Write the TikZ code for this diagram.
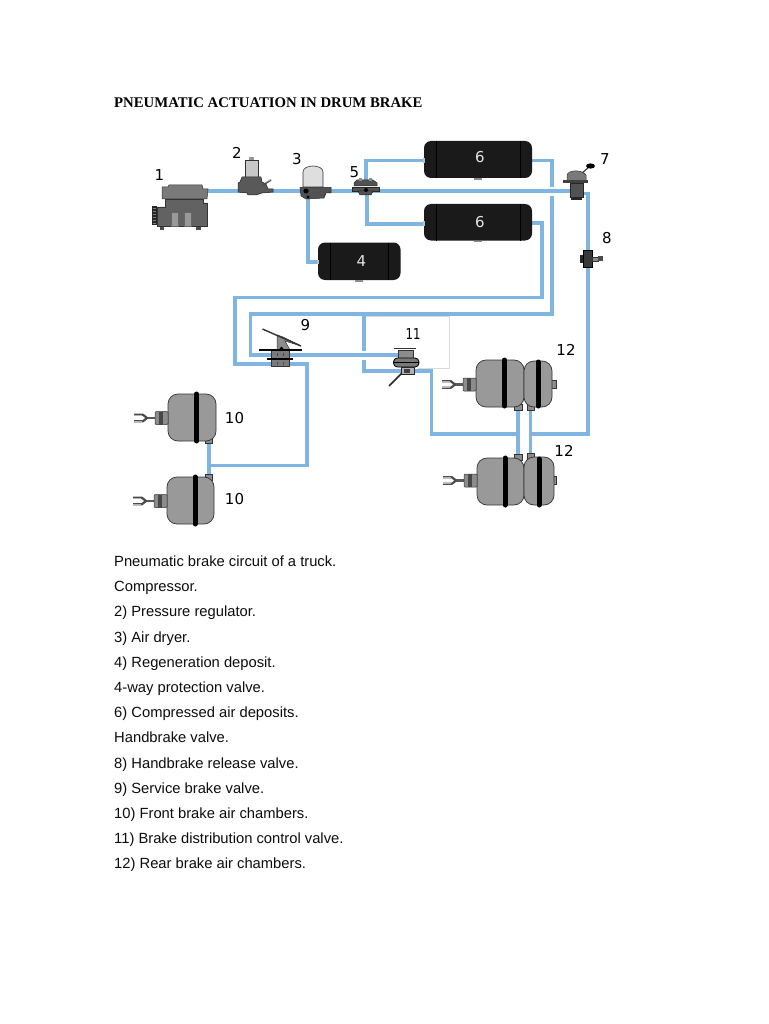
\documentclass[tikz,border=0pt]{standalone}
\usepackage{fontspec}
\setmainfont{Liberation Sans}
\newfontfamily\titlefont{Liberation Serif}
\newfontfamily\labelfont{DejaVu Sans}
\usetikzlibrary{calc}
\definecolor{pipeblue}{HTML}{7FB5E0}
\definecolor{tankblack}{HTML}{1A1A1A}
\definecolor{chambergray}{HTML}{999999}
\definecolor{outlinegray}{HTML}{333333}
\definecolor{metalgray}{HTML}{626262}
\definecolor{headgray}{HTML}{7A7A7A}
\definecolor{partgray}{HTML}{8C8C8C}
\tikzset{
  pipe/.style={draw=pipeblue,line width=3.9pt,line join=miter},
  num/.style={font=\labelfont\fontsize{15}{16}\selectfont,text=black,inner sep=0pt},
  tanknum/.style={font=\labelfont\fontsize{15}{16}\selectfont,text=white!90!black,inner sep=0pt},
  caption/.style={font=\fontsize{14.75}{17}\selectfont,text=black!95,anchor=base west,inner sep=0pt},
  tankbody/.style={fill=tankblack,rounded corners=7pt},
  metal/.style={fill=metalgray,draw=outlinegray,line width=0.5pt},
  darkmetal/.style={fill=black!68,draw=black!85,line width=0.5pt},
  portbox/.style={fill=partgray,draw=outlinegray,line width=0.4pt},
  chamber/.style={fill=chambergray,draw=outlinegray,line width=0.7pt,rounded corners=10pt},
  clamp/.style={draw=black,line width=5pt,line cap=round},
  pics/fork/.style={code={
    \fill[black!65] (-22,-1.3) rectangle (-13,1.3);
    \draw[outlinegray,fill=partgray,line width=0.5pt,rounded corners=1pt] (-13,-6.5) rectangle (0,6.5);
    \fill[black!72] (-9,-6.5) rectangle (-5,6.5);
    \draw[black!70,line width=2.2pt,line join=round] (-34,-3.2) -- (-25,-3.2) -- (-21,0) -- (-25,3.2) -- (-34,3.2);
    \draw[black!30,line width=0.6pt] (-34,-3.2) -- (-26,-3.2) (-34,3.2) -- (-26,3.2);
  }},
  pics/tankshape/.style args={#1/#2}{code={
    \fill[tankbody] (0,0) rectangle (#1,#2);
    \draw[black,line width=0.5pt] (12,0) -- (12,#2) (#1-12,0) -- (#1-12,#2);
    \fill[black!45] (#1/2-4,#2) rectangle (#1/2+4,#2+1.6);
  }}
}
\begin{document}
\begin{tikzpicture}[x=1pt,y=-1pt]
\useasboundingbox (0,0) rectangle (768,1024);
\fill[white] (0,0) rectangle (768,1024);

% named anchor points
\coordinate (compr) at (207,191);
\coordinate (reg) at (255,191);
\coordinate (dry) at (308,191);
\coordinate (prot) at (366,191);
\coordinate (hand) at (577,191);
\coordinate (tankA) at (424,160.5);
\coordinate (tankB) at (424,224);
\coordinate (regen) at (318,262);
\coordinate (tankAr) at (532,160.5);
\coordinate (tankBr) at (532,223);
\coordinate (dist) at (405,355);

% faint outline beside valve 11
\draw[black!14,line width=0.6pt] (364,316) -- (449.5,316) -- (449.5,368) -- (418,368);

% pipes
\draw[pipe] (compr) -- (reg);
\draw[pipe] (reg) -- (dry);
\draw[pipe] (dry) -- (prot);
\draw[pipe] (prot) -- (hand);
\draw[pipe] (dry) -- (308,262) -- (regen);
\draw[pipe] (366,183) -- (366,160.5) -- (tankA);
\draw[pipe] (367,191) -- (367,224) -- (tankB);
\draw[pipe] (tankAr) -- (551.7,160.5) -- (551.7,187);
\draw[pipe] (551.7,196.5) -- (551.7,314) -- (250.5,314) -- (250.5,355) -- (dist);
\draw[pipe] (364,314) -- (364,351);
\draw[pipe] (364,360) -- (364,371) -- (431.5,371) -- (431.5,434) -- (518,434);
\draw[pipe] (tankBr) -- (541.7,223) -- (541.7,297.5) -- (235,297.5) -- (235,364) -- (307,364) -- (307,465.5) -- (209,465.5);
\draw[pipe] (hand) ++(0,2.5) -- (588,193.5) -- (588,434) -- (530.5,434);
\draw[pipe] (518,407) -- (518,456);
\draw[pipe] (530.5,407) -- (530.5,456);
\draw[pipe] (209,443) -- (209,477);

% tanks
\pic at (424,141) {tankshape=108/37};
\pic at (424,204) {tankshape=108/36.5};
\pic at (318,242.5) {tankshape=82.5/37.5};
\fill[black!25] (422.5,158) rectangle (424.5,163);
\fill[black!25] (422.5,221) rectangle (424.5,226);
\fill[black!25] (316.5,260) rectangle (318.5,264);

% compressor
\fill[black!70] (160,225) rectangle (163.5,230);
\fill[black!70] (196,225) rectangle (201,230);
\draw[metal] (157,207) -- (165,207) -- (165,199) -- (203,199) -- (203,203) -- (207.5,203) -- (207.5,226) -- (157,226) -- cycle;
\draw[fill=headgray,draw=outlinegray,line width=0.5pt] (162,187) -- (168,187) -- (169,185) -- (202,185) -- (203,189) -- (208,189) -- (207,199) -- (162,199) -- cycle;
\fill[black!85] (152,206) rectangle (157,225);
\draw[black!50,line width=0.5pt] (153,208) -- (156,208) (153,211) -- (156,211) (153,214) -- (156,214) (153,217) -- (156,217) (153,220) -- (156,220) (153,223) -- (156,223);
\draw[fill=chambergray,draw=black!60,line width=0.5pt] (171,226) -- (171,212) -- (178,212) -- (178,226) -- cycle;
\draw[fill=chambergray,draw=black!60,line width=0.5pt] (184,226) -- (184,212) -- (191,212) -- (191,226) -- cycle;

% pressure regulator
\draw[fill=black!22,draw=outlinegray,line width=0.5pt] (245,177) -- (245,160) -- (258,160) -- (258,177) -- cycle;
\fill[black!40] (249,157) rectangle (254,160);
\draw[darkmetal,fill=black!65] (240,182) -- (242,177) -- (261,177) -- (262,182) -- (266,184) -- (268,189) -- (273,189) -- (273,192) -- (262,193) -- (256,195) -- (248,195) -- (247,193) -- (238,192) -- (238,183) -- cycle;
\draw[black!70,line width=1.6pt] (263,185) -- (271,180);
\draw[black!30,line width=0.5pt] (265,183) -- (271,179.5);

% air dryer
\draw[fill=black!13,draw=outlinegray,line width=0.6pt] (303,187) -- (303,172) .. controls (303,164) and (323,164) .. (323,172) -- (323,187) -- cycle;
\draw[darkmetal] (300,187.5) -- (331,187.5) -- (331,193) -- (326,193) -- (324,198) -- (306,199) -- (301,196) -- cycle;
\fill[black] (306,191) circle (2.6pt);
\fill[black] (308,197) circle (1.6pt);

% protection valve
\draw[darkmetal] (354,183) -- (357,180) -- (373,180) -- (377,183) -- (377,186) -- (354,186) -- cycle;
\draw[darkmetal] (352,187) rectangle (379,191);
\fill[partgray] (359,178) rectangle (362,181);
\fill[partgray] (369,178) rectangle (372,181);
\draw[darkmetal] (358,191) -- (373,191) -- (371,195) -- (360,195) -- cycle;
\fill[black] (366,190) circle (2pt);

% handbrake valve
\draw[black!75,line width=1.2pt] (581,174) -- (589,167);
\fill[black] (590.5,166) ellipse (4.5pt and 2.6pt);
\draw[fill=headgray,draw=outlinegray,line width=0.5pt] (567,181) -- (567,175) .. controls (568,170) and (582,169) .. (586,175) -- (586,181) -- cycle;
\fill[black!75] (563,180.5) rectangle (588,183);
\draw[darkmetal] (570,183) rectangle (583,197);
\fill[black!85] (571,197) rectangle (582,200);

% handbrake release valve
\fill[black!85] (580,255) rectangle (583,263);
\draw[fill=black!78,draw=black,line width=0.4pt] (583,250) rectangle (592,267);
\draw[fill=partgray,draw=outlinegray,line width=0.5pt] (592,257) rectangle (598,261);
\fill[black!70] (598,256) rectangle (603,261);

% service brake valve
\draw[outlinegray,fill=partgray,line width=0.5pt] (277,350) -- (277,335) -- (283,337) -- (301,346) -- (285,341) -- (290,350) -- cycle;
\draw[outlinegray,line width=1.4pt] (262.5,329) -- (301,346);
\draw[fill=headgray,draw=outlinegray,line width=0.5pt] (271,350) rectangle (289,366);
\draw[black,line width=1.4pt] (259,350) -- (302,350);
\draw[black,line width=1.4pt] (267,359) -- (293,359);
\fill[black] (281.5,348.5) circle (1.8pt);
\draw[black!70,line width=0.6pt] (277,353) -- (277,356) (283,353) -- (283,356) (277,362) -- (277,365) (283,362) -- (283,365);

% brake distribution valve
\draw[black!85,line width=1.6pt] (389,386) -- (405,370);
\draw[fill=partgray,draw=outlinegray,line width=0.5pt] (398,350) rectangle (413,358);
\draw[black!80,line width=1.4pt] (394,348.5) -- (416,348.5);
\draw[fill=headgray,draw=black,line width=0.9pt,rounded corners=4pt] (393.5,358) rectangle (419,367);
\draw[black,line width=0.8pt] (394,362.5) -- (419,362.5);
\draw[darkmetal,fill=black!30] (401,367) rectangle (414,374);
\fill[black!75] (404,369) rectangle (410,373);

% front chambers
\draw[portbox] (205.5,437) rectangle (212,443);
\draw[chamber] (168,394) rectangle (216,441);
\draw[clamp] (196.5,394) -- (196.5,441);
\pic at (168,418) {fork};
\draw[portbox] (205,474) rectangle (212,480);
\draw[chamber] (167,477) rectangle (214,524);
\draw[clamp] (195,477) -- (195,524);
\pic at (167,501) {fork};

% rear chambers
\draw[portbox] (514,404) rectangle (522,410);
\draw[portbox] (527,404) rectangle (534,410);
\draw[portbox] (551,380) rectangle (556,388);
\draw[chamber] (476,360) rectangle (524,407);
\draw[chamber] (524,361) rectangle (552,407);
\draw[clamp] (504.5,360) -- (504.5,406);
\draw[clamp] (538,362) -- (538,406);
\pic at (476,384.5) {fork};
\draw[portbox] (514,454) rectangle (522,460);
\draw[portbox] (527,453) rectangle (534,459);
\draw[portbox] (552,476) rectangle (556.5,484);
\draw[chamber] (477,458) rectangle (524,505);
\draw[chamber] (524,457) rectangle (554,505);
\draw[clamp] (505,458) -- (505,505);
\draw[clamp] (539,459) -- (539,505);
\pic at (477,480.5) {fork};

% number labels
\node[num] (n1) at (159.5,175) {1};
\node[num] (n2) at (237,152.5) {2};
\node[num] (n3) at (297,159.5) {3};
\node[num] (n5) at (354.5,172.5) {5};
\node[tanknum] (n6a) at (480,157) {6};
\node[tanknum] (n6b) at (480,222.5) {6};
\node[tanknum] (n4) at (361.5,261.5) {4};
\node[num] (n7) at (605,159) {7};
\node[num] (n8) at (607,238.5) {8};
\node[num] (n9) at (305.5,325) {9};
\node[num] (n11) at (413,334) {\scalebox{0.78}[1]{11}};
\node[num] (n12a) at (566,350) {12};
\node[num] (n12b) at (564,451) {12};
\node[num] (n10a) at (234.5,418) {10};
\node[num] (n10b) at (234.5,499) {10};

% title and captions
\node[anchor=base west,inner sep=0pt,font=\titlefont\bfseries\fontsize{14.75}{17}\selectfont] (title) at (114,107.5) {PNEUMATIC ACTUATION IN DRUM BRAKE};
\node[caption] (c0) at (114,566.5) {Pneumatic brake circuit of a truck.};
\node[caption] (c1) at (114,591.7) {Compressor.};
\node[caption] (c2) at (114,616.9) {2) Pressure regulator.};
\node[caption] (c3) at (114,642.1) {3) Air dryer.};
\node[caption] (c4) at (114,667.3) {4) Regeneration deposit.};
\node[caption] (c5) at (114,692.5) {4-way protection valve.};
\node[caption] (c6) at (114,717.7) {6) Compressed air deposits.};
\node[caption] (c7) at (114,742.9) {Handbrake valve.};
\node[caption] (c8) at (114,768.1) {8) Handbrake release valve.};
\node[caption] (c9) at (114,793.3) {9) Service brake valve.};
\node[caption] (c10) at (114,818.5) {10) Front brake air chambers.};
\node[caption] (c11) at (114,843.7) {11) Brake distribution control valve.};
\node[caption] (c12) at (114,868.9) {12) Rear brake air chambers.};
\end{tikzpicture}
\end{document}
